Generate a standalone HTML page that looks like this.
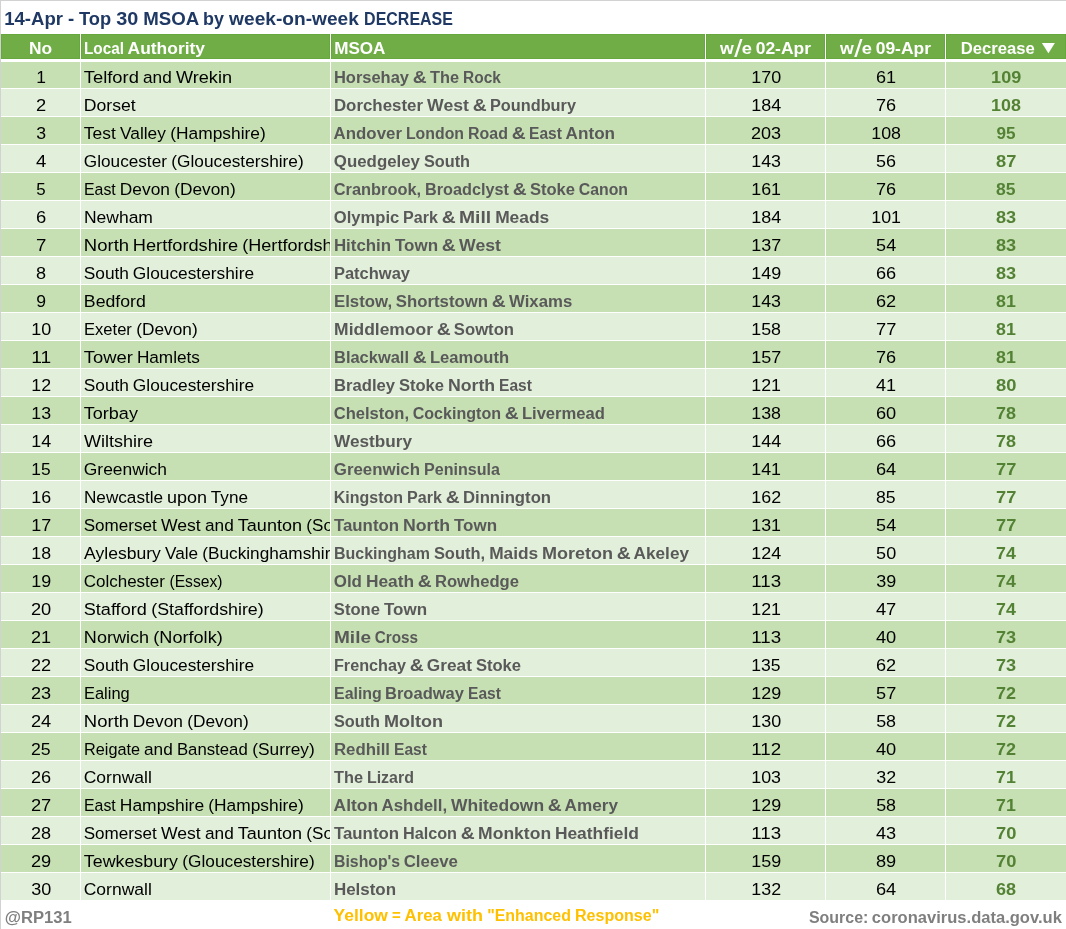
<!DOCTYPE html>
<html><head><meta charset="utf-8"><title>Top 30 MSOA by week-on-week DECREASE</title>
<style>html,body{margin:0;padding:0;background:#fff;overflow:hidden}svg{display:block}text{white-space:pre}</style>
</head><body>
<svg width="1066" height="929" viewBox="0 0 1066 929" font-family="'Liberation Sans', sans-serif" font-size="17.4">
<defs><clipPath id="c1"><rect x="81" y="0" width="249" height="929"/></clipPath></defs>
<rect x="0" y="0" width="1066" height="929" fill="#fff"/>
<rect x="0" y="0" width="1066" height="1" fill="#d2d2d2"/>
<rect x="0" y="0" width="1" height="929" fill="#d2d2d2"/>
<rect x="1" y="34" width="79" height="25" fill="#67A83E"/>
<rect x="2" y="35" width="77" height="23" fill="#70AD47"/>
<rect x="81" y="34" width="249" height="25" fill="#67A83E"/>
<rect x="82" y="35" width="247" height="23" fill="#70AD47"/>
<rect x="331" y="34" width="374" height="25" fill="#67A83E"/>
<rect x="332" y="35" width="372" height="23" fill="#70AD47"/>
<rect x="706" y="34" width="119" height="25" fill="#67A83E"/>
<rect x="707" y="35" width="117" height="23" fill="#70AD47"/>
<rect x="826" y="34" width="119" height="25" fill="#67A83E"/>
<rect x="827" y="35" width="117" height="23" fill="#70AD47"/>
<rect x="946" y="34" width="120" height="25" fill="#67A83E"/>
<rect x="947" y="35" width="118" height="23" fill="#70AD47"/>
<rect x="1" y="62" width="79" height="26" fill="#C6E0B4"/>
<rect x="81" y="62" width="249" height="26" fill="#C6E0B4"/>
<rect x="331" y="62" width="374" height="26" fill="#C6E0B4"/>
<rect x="706" y="62" width="119" height="26" fill="#C6E0B4"/>
<rect x="826" y="62" width="119" height="26" fill="#C6E0B4"/>
<rect x="946" y="62" width="120" height="26" fill="#C6E0B4"/>
<rect x="1" y="89" width="79" height="27" fill="#E2EFDA"/>
<rect x="81" y="89" width="249" height="27" fill="#E2EFDA"/>
<rect x="331" y="89" width="374" height="27" fill="#E2EFDA"/>
<rect x="706" y="89" width="119" height="27" fill="#E2EFDA"/>
<rect x="826" y="89" width="119" height="27" fill="#E2EFDA"/>
<rect x="946" y="89" width="120" height="27" fill="#E2EFDA"/>
<rect x="1" y="117" width="79" height="27" fill="#C6E0B4"/>
<rect x="81" y="117" width="249" height="27" fill="#C6E0B4"/>
<rect x="331" y="117" width="374" height="27" fill="#C6E0B4"/>
<rect x="706" y="117" width="119" height="27" fill="#C6E0B4"/>
<rect x="826" y="117" width="119" height="27" fill="#C6E0B4"/>
<rect x="946" y="117" width="120" height="27" fill="#C6E0B4"/>
<rect x="1" y="145" width="79" height="27" fill="#E2EFDA"/>
<rect x="81" y="145" width="249" height="27" fill="#E2EFDA"/>
<rect x="331" y="145" width="374" height="27" fill="#E2EFDA"/>
<rect x="706" y="145" width="119" height="27" fill="#E2EFDA"/>
<rect x="826" y="145" width="119" height="27" fill="#E2EFDA"/>
<rect x="946" y="145" width="120" height="27" fill="#E2EFDA"/>
<rect x="1" y="173" width="79" height="27" fill="#C6E0B4"/>
<rect x="81" y="173" width="249" height="27" fill="#C6E0B4"/>
<rect x="331" y="173" width="374" height="27" fill="#C6E0B4"/>
<rect x="706" y="173" width="119" height="27" fill="#C6E0B4"/>
<rect x="826" y="173" width="119" height="27" fill="#C6E0B4"/>
<rect x="946" y="173" width="120" height="27" fill="#C6E0B4"/>
<rect x="1" y="201" width="79" height="27" fill="#E2EFDA"/>
<rect x="81" y="201" width="249" height="27" fill="#E2EFDA"/>
<rect x="331" y="201" width="374" height="27" fill="#E2EFDA"/>
<rect x="706" y="201" width="119" height="27" fill="#E2EFDA"/>
<rect x="826" y="201" width="119" height="27" fill="#E2EFDA"/>
<rect x="946" y="201" width="120" height="27" fill="#E2EFDA"/>
<rect x="1" y="229" width="79" height="27" fill="#C6E0B4"/>
<rect x="81" y="229" width="249" height="27" fill="#C6E0B4"/>
<rect x="331" y="229" width="374" height="27" fill="#C6E0B4"/>
<rect x="706" y="229" width="119" height="27" fill="#C6E0B4"/>
<rect x="826" y="229" width="119" height="27" fill="#C6E0B4"/>
<rect x="946" y="229" width="120" height="27" fill="#C6E0B4"/>
<rect x="1" y="257" width="79" height="27" fill="#E2EFDA"/>
<rect x="81" y="257" width="249" height="27" fill="#E2EFDA"/>
<rect x="331" y="257" width="374" height="27" fill="#E2EFDA"/>
<rect x="706" y="257" width="119" height="27" fill="#E2EFDA"/>
<rect x="826" y="257" width="119" height="27" fill="#E2EFDA"/>
<rect x="946" y="257" width="120" height="27" fill="#E2EFDA"/>
<rect x="1" y="285" width="79" height="27" fill="#C6E0B4"/>
<rect x="81" y="285" width="249" height="27" fill="#C6E0B4"/>
<rect x="331" y="285" width="374" height="27" fill="#C6E0B4"/>
<rect x="706" y="285" width="119" height="27" fill="#C6E0B4"/>
<rect x="826" y="285" width="119" height="27" fill="#C6E0B4"/>
<rect x="946" y="285" width="120" height="27" fill="#C6E0B4"/>
<rect x="1" y="313" width="79" height="27" fill="#E2EFDA"/>
<rect x="81" y="313" width="249" height="27" fill="#E2EFDA"/>
<rect x="331" y="313" width="374" height="27" fill="#E2EFDA"/>
<rect x="706" y="313" width="119" height="27" fill="#E2EFDA"/>
<rect x="826" y="313" width="119" height="27" fill="#E2EFDA"/>
<rect x="946" y="313" width="120" height="27" fill="#E2EFDA"/>
<rect x="1" y="341" width="79" height="27" fill="#C6E0B4"/>
<rect x="81" y="341" width="249" height="27" fill="#C6E0B4"/>
<rect x="331" y="341" width="374" height="27" fill="#C6E0B4"/>
<rect x="706" y="341" width="119" height="27" fill="#C6E0B4"/>
<rect x="826" y="341" width="119" height="27" fill="#C6E0B4"/>
<rect x="946" y="341" width="120" height="27" fill="#C6E0B4"/>
<rect x="1" y="369" width="79" height="27" fill="#E2EFDA"/>
<rect x="81" y="369" width="249" height="27" fill="#E2EFDA"/>
<rect x="331" y="369" width="374" height="27" fill="#E2EFDA"/>
<rect x="706" y="369" width="119" height="27" fill="#E2EFDA"/>
<rect x="826" y="369" width="119" height="27" fill="#E2EFDA"/>
<rect x="946" y="369" width="120" height="27" fill="#E2EFDA"/>
<rect x="1" y="397" width="79" height="27" fill="#C6E0B4"/>
<rect x="81" y="397" width="249" height="27" fill="#C6E0B4"/>
<rect x="331" y="397" width="374" height="27" fill="#C6E0B4"/>
<rect x="706" y="397" width="119" height="27" fill="#C6E0B4"/>
<rect x="826" y="397" width="119" height="27" fill="#C6E0B4"/>
<rect x="946" y="397" width="120" height="27" fill="#C6E0B4"/>
<rect x="1" y="425" width="79" height="27" fill="#E2EFDA"/>
<rect x="81" y="425" width="249" height="27" fill="#E2EFDA"/>
<rect x="331" y="425" width="374" height="27" fill="#E2EFDA"/>
<rect x="706" y="425" width="119" height="27" fill="#E2EFDA"/>
<rect x="826" y="425" width="119" height="27" fill="#E2EFDA"/>
<rect x="946" y="425" width="120" height="27" fill="#E2EFDA"/>
<rect x="1" y="453" width="79" height="27" fill="#C6E0B4"/>
<rect x="81" y="453" width="249" height="27" fill="#C6E0B4"/>
<rect x="331" y="453" width="374" height="27" fill="#C6E0B4"/>
<rect x="706" y="453" width="119" height="27" fill="#C6E0B4"/>
<rect x="826" y="453" width="119" height="27" fill="#C6E0B4"/>
<rect x="946" y="453" width="120" height="27" fill="#C6E0B4"/>
<rect x="1" y="481" width="79" height="27" fill="#E2EFDA"/>
<rect x="81" y="481" width="249" height="27" fill="#E2EFDA"/>
<rect x="331" y="481" width="374" height="27" fill="#E2EFDA"/>
<rect x="706" y="481" width="119" height="27" fill="#E2EFDA"/>
<rect x="826" y="481" width="119" height="27" fill="#E2EFDA"/>
<rect x="946" y="481" width="120" height="27" fill="#E2EFDA"/>
<rect x="1" y="509" width="79" height="27" fill="#C6E0B4"/>
<rect x="81" y="509" width="249" height="27" fill="#C6E0B4"/>
<rect x="331" y="509" width="374" height="27" fill="#C6E0B4"/>
<rect x="706" y="509" width="119" height="27" fill="#C6E0B4"/>
<rect x="826" y="509" width="119" height="27" fill="#C6E0B4"/>
<rect x="946" y="509" width="120" height="27" fill="#C6E0B4"/>
<rect x="1" y="537" width="79" height="27" fill="#E2EFDA"/>
<rect x="81" y="537" width="249" height="27" fill="#E2EFDA"/>
<rect x="331" y="537" width="374" height="27" fill="#E2EFDA"/>
<rect x="706" y="537" width="119" height="27" fill="#E2EFDA"/>
<rect x="826" y="537" width="119" height="27" fill="#E2EFDA"/>
<rect x="946" y="537" width="120" height="27" fill="#E2EFDA"/>
<rect x="1" y="565" width="79" height="27" fill="#C6E0B4"/>
<rect x="81" y="565" width="249" height="27" fill="#C6E0B4"/>
<rect x="331" y="565" width="374" height="27" fill="#C6E0B4"/>
<rect x="706" y="565" width="119" height="27" fill="#C6E0B4"/>
<rect x="826" y="565" width="119" height="27" fill="#C6E0B4"/>
<rect x="946" y="565" width="120" height="27" fill="#C6E0B4"/>
<rect x="1" y="593" width="79" height="27" fill="#E2EFDA"/>
<rect x="81" y="593" width="249" height="27" fill="#E2EFDA"/>
<rect x="331" y="593" width="374" height="27" fill="#E2EFDA"/>
<rect x="706" y="593" width="119" height="27" fill="#E2EFDA"/>
<rect x="826" y="593" width="119" height="27" fill="#E2EFDA"/>
<rect x="946" y="593" width="120" height="27" fill="#E2EFDA"/>
<rect x="1" y="621" width="79" height="27" fill="#C6E0B4"/>
<rect x="81" y="621" width="249" height="27" fill="#C6E0B4"/>
<rect x="331" y="621" width="374" height="27" fill="#C6E0B4"/>
<rect x="706" y="621" width="119" height="27" fill="#C6E0B4"/>
<rect x="826" y="621" width="119" height="27" fill="#C6E0B4"/>
<rect x="946" y="621" width="120" height="27" fill="#C6E0B4"/>
<rect x="1" y="649" width="79" height="27" fill="#E2EFDA"/>
<rect x="81" y="649" width="249" height="27" fill="#E2EFDA"/>
<rect x="331" y="649" width="374" height="27" fill="#E2EFDA"/>
<rect x="706" y="649" width="119" height="27" fill="#E2EFDA"/>
<rect x="826" y="649" width="119" height="27" fill="#E2EFDA"/>
<rect x="946" y="649" width="120" height="27" fill="#E2EFDA"/>
<rect x="1" y="677" width="79" height="27" fill="#C6E0B4"/>
<rect x="81" y="677" width="249" height="27" fill="#C6E0B4"/>
<rect x="331" y="677" width="374" height="27" fill="#C6E0B4"/>
<rect x="706" y="677" width="119" height="27" fill="#C6E0B4"/>
<rect x="826" y="677" width="119" height="27" fill="#C6E0B4"/>
<rect x="946" y="677" width="120" height="27" fill="#C6E0B4"/>
<rect x="1" y="705" width="79" height="27" fill="#E2EFDA"/>
<rect x="81" y="705" width="249" height="27" fill="#E2EFDA"/>
<rect x="331" y="705" width="374" height="27" fill="#E2EFDA"/>
<rect x="706" y="705" width="119" height="27" fill="#E2EFDA"/>
<rect x="826" y="705" width="119" height="27" fill="#E2EFDA"/>
<rect x="946" y="705" width="120" height="27" fill="#E2EFDA"/>
<rect x="1" y="733" width="79" height="27" fill="#C6E0B4"/>
<rect x="81" y="733" width="249" height="27" fill="#C6E0B4"/>
<rect x="331" y="733" width="374" height="27" fill="#C6E0B4"/>
<rect x="706" y="733" width="119" height="27" fill="#C6E0B4"/>
<rect x="826" y="733" width="119" height="27" fill="#C6E0B4"/>
<rect x="946" y="733" width="120" height="27" fill="#C6E0B4"/>
<rect x="1" y="761" width="79" height="27" fill="#E2EFDA"/>
<rect x="81" y="761" width="249" height="27" fill="#E2EFDA"/>
<rect x="331" y="761" width="374" height="27" fill="#E2EFDA"/>
<rect x="706" y="761" width="119" height="27" fill="#E2EFDA"/>
<rect x="826" y="761" width="119" height="27" fill="#E2EFDA"/>
<rect x="946" y="761" width="120" height="27" fill="#E2EFDA"/>
<rect x="1" y="789" width="79" height="27" fill="#C6E0B4"/>
<rect x="81" y="789" width="249" height="27" fill="#C6E0B4"/>
<rect x="331" y="789" width="374" height="27" fill="#C6E0B4"/>
<rect x="706" y="789" width="119" height="27" fill="#C6E0B4"/>
<rect x="826" y="789" width="119" height="27" fill="#C6E0B4"/>
<rect x="946" y="789" width="120" height="27" fill="#C6E0B4"/>
<rect x="1" y="817" width="79" height="27" fill="#E2EFDA"/>
<rect x="81" y="817" width="249" height="27" fill="#E2EFDA"/>
<rect x="331" y="817" width="374" height="27" fill="#E2EFDA"/>
<rect x="706" y="817" width="119" height="27" fill="#E2EFDA"/>
<rect x="826" y="817" width="119" height="27" fill="#E2EFDA"/>
<rect x="946" y="817" width="120" height="27" fill="#E2EFDA"/>
<rect x="1" y="845" width="79" height="27" fill="#C6E0B4"/>
<rect x="81" y="845" width="249" height="27" fill="#C6E0B4"/>
<rect x="331" y="845" width="374" height="27" fill="#C6E0B4"/>
<rect x="706" y="845" width="119" height="27" fill="#C6E0B4"/>
<rect x="826" y="845" width="119" height="27" fill="#C6E0B4"/>
<rect x="946" y="845" width="120" height="27" fill="#C6E0B4"/>
<rect x="1" y="873" width="79" height="27" fill="#E2EFDA"/>
<rect x="81" y="873" width="249" height="27" fill="#E2EFDA"/>
<rect x="331" y="873" width="374" height="27" fill="#E2EFDA"/>
<rect x="706" y="873" width="119" height="27" fill="#E2EFDA"/>
<rect x="826" y="873" width="119" height="27" fill="#E2EFDA"/>
<rect x="946" y="873" width="120" height="27" fill="#E2EFDA"/>
<text y="25" font-size="18.9" font-weight="bold" fill="#1F3864"><tspan x="4.24" textLength="58.74" lengthAdjust="spacingAndGlyphs">14-Apr</tspan> <tspan x="67.90" textLength="6.23" lengthAdjust="spacingAndGlyphs">-</tspan> <tspan x="78.98" textLength="32.12" lengthAdjust="spacingAndGlyphs">Top</tspan> <tspan x="116.32" textLength="22.06" lengthAdjust="spacingAndGlyphs">30</tspan> <tspan x="143.19" textLength="55.28" lengthAdjust="spacingAndGlyphs">MSOA</tspan> <tspan x="203.09" textLength="20.90" lengthAdjust="spacingAndGlyphs">by</tspan> <tspan x="229.13" textLength="129.72" lengthAdjust="spacingAndGlyphs">week-on-week</tspan> <tspan x="364.12" textLength="88.79" lengthAdjust="spacingAndGlyphs">DECREASE</tspan></text>
<text y="54" font-weight="bold" fill="#fff"><tspan x="28.97" textLength="23.13" lengthAdjust="spacingAndGlyphs">No</tspan></text>
<text y="54" font-weight="bold" fill="#fff"><tspan x="83.98" textLength="39.96" lengthAdjust="spacingAndGlyphs">Local</tspan> <tspan x="127.60" textLength="77.40" lengthAdjust="spacingAndGlyphs">Authority</tspan></text>
<text y="54" font-weight="bold" fill="#fff"><tspan x="334.15" textLength="51.30" lengthAdjust="spacingAndGlyphs">MSOA</tspan></text>
<text y="54" font-weight="bold" fill="#fff"><tspan x="720.12" y="54" textLength="13.78" lengthAdjust="spacingAndGlyphs">w</tspan><tspan x="734.20" font-size="23.0" font-weight="normal" y="56.60" textLength="8.20" lengthAdjust="spacingAndGlyphs">/</tspan><tspan x="741.87" y="54" textLength="10.18" lengthAdjust="spacingAndGlyphs">e</tspan> <tspan x="755.70" y="54" textLength="55.29" lengthAdjust="spacingAndGlyphs">02-Apr</tspan></text>
<text y="54" font-weight="bold" fill="#fff"><tspan x="840.12" y="54" textLength="13.78" lengthAdjust="spacingAndGlyphs">w</tspan><tspan x="854.20" font-size="23.0" font-weight="normal" y="56.60" textLength="8.20" lengthAdjust="spacingAndGlyphs">/</tspan><tspan x="861.87" y="54" textLength="10.18" lengthAdjust="spacingAndGlyphs">e</tspan> <tspan x="875.70" y="54" textLength="55.29" lengthAdjust="spacingAndGlyphs">09-Apr</tspan></text>
<text y="54" font-weight="bold" fill="#fff"><tspan x="960.66" textLength="74.03" lengthAdjust="spacingAndGlyphs">Decrease</tspan></text>
<text y="83"><tspan x="36.32" textLength="9.68" lengthAdjust="spacingAndGlyphs">1</tspan></text>
<text y="83" clip-path="url(#c1)"><tspan x="83.81" textLength="55.04" lengthAdjust="spacingAndGlyphs">Telford</tspan> <tspan x="143.05" textLength="28.73" lengthAdjust="spacingAndGlyphs">and</tspan> <tspan x="176.03" textLength="55.98" lengthAdjust="spacingAndGlyphs">Wrekin</tspan></text>
<text y="83" font-weight="bold" fill="#595959"><tspan x="333.95" textLength="75.05" lengthAdjust="spacingAndGlyphs">Horsehay</tspan> <tspan x="412.74" textLength="13.92" lengthAdjust="spacingAndGlyphs">&amp;</tspan> <tspan x="429.98" textLength="29.00" lengthAdjust="spacingAndGlyphs">The</tspan> <tspan x="463.06" textLength="37.80" lengthAdjust="spacingAndGlyphs">Rock</tspan></text>
<text y="83"><tspan x="751.27" textLength="29.93" lengthAdjust="spacingAndGlyphs">170</tspan></text>
<text y="83"><tspan x="875.94" textLength="20.09" lengthAdjust="spacingAndGlyphs">61</tspan></text>
<text y="83" font-weight="bold" fill="#548235"><tspan x="991.13" textLength="30.13" lengthAdjust="spacingAndGlyphs">109</tspan></text>
<text y="111"><tspan x="35.93" textLength="10.18" lengthAdjust="spacingAndGlyphs">2</tspan></text>
<text y="111" clip-path="url(#c1)"><tspan x="83.84" textLength="51.95" lengthAdjust="spacingAndGlyphs">Dorset</tspan></text>
<text y="111" font-weight="bold" fill="#595959"><tspan x="333.95" textLength="89.03" lengthAdjust="spacingAndGlyphs">Dorchester</tspan> <tspan x="427.07" textLength="41.87" lengthAdjust="spacingAndGlyphs">West</tspan> <tspan x="472.74" textLength="13.92" lengthAdjust="spacingAndGlyphs">&amp;</tspan> <tspan x="489.98" textLength="86.02" lengthAdjust="spacingAndGlyphs">Poundbury</tspan></text>
<text y="111"><tspan x="751.27" textLength="29.94" lengthAdjust="spacingAndGlyphs">184</tspan></text>
<text y="111"><tspan x="875.98" textLength="20.16" lengthAdjust="spacingAndGlyphs">76</tspan></text>
<text y="111" font-weight="bold" fill="#548235"><tspan x="991.14" textLength="29.84" lengthAdjust="spacingAndGlyphs">108</tspan></text>
<text y="139"><tspan x="36.21" textLength="9.85" lengthAdjust="spacingAndGlyphs">3</tspan></text>
<text y="139" clip-path="url(#c1)"><tspan x="83.83" textLength="31.96" lengthAdjust="spacingAndGlyphs">Test</tspan> <tspan x="119.98" textLength="45.92" lengthAdjust="spacingAndGlyphs">Valley</tspan> <tspan x="170.32" textLength="95.37" lengthAdjust="spacingAndGlyphs">(Hampshire)</tspan></text>
<text y="139" font-weight="bold" fill="#595959"><tspan x="333.62" textLength="68.36" lengthAdjust="spacingAndGlyphs">Andover</tspan> <tspan x="405.94" textLength="58.05" lengthAdjust="spacingAndGlyphs">London</tspan> <tspan x="468.03" textLength="39.87" lengthAdjust="spacingAndGlyphs">Road</tspan> <tspan x="511.74" textLength="13.92" lengthAdjust="spacingAndGlyphs">&amp;</tspan> <tspan x="529.05" textLength="32.86" lengthAdjust="spacingAndGlyphs">East</tspan> <tspan x="565.61" textLength="49.46" lengthAdjust="spacingAndGlyphs">Anton</tspan></text>
<text y="139"><tspan x="750.94" textLength="30.13" lengthAdjust="spacingAndGlyphs">203</tspan></text>
<text y="139"><tspan x="871.28" textLength="29.73" lengthAdjust="spacingAndGlyphs">108</tspan></text>
<text y="139" font-weight="bold" fill="#548235"><tspan x="996.43" textLength="19.08" lengthAdjust="spacingAndGlyphs">95</tspan></text>
<text y="167"><tspan x="35.90" textLength="10.33" lengthAdjust="spacingAndGlyphs">4</tspan></text>
<text y="167" clip-path="url(#c1)"><tspan x="83.85" textLength="83.06" lengthAdjust="spacingAndGlyphs">Gloucester</tspan> <tspan x="171.32" textLength="132.36" lengthAdjust="spacingAndGlyphs">(Gloucestershire)</tspan></text>
<text y="167" font-weight="bold" fill="#595959"><tspan x="333.85" textLength="86.15" lengthAdjust="spacingAndGlyphs">Quedgeley</tspan> <tspan x="423.88" textLength="46.14" lengthAdjust="spacingAndGlyphs">South</tspan></text>
<text y="167"><tspan x="751.28" textLength="29.78" lengthAdjust="spacingAndGlyphs">143</tspan></text>
<text y="167"><tspan x="876.14" textLength="19.99" lengthAdjust="spacingAndGlyphs">56</tspan></text>
<text y="167" font-weight="bold" fill="#548235"><tspan x="995.99" textLength="20.32" lengthAdjust="spacingAndGlyphs">87</tspan></text>
<text y="195"><tspan x="36.19" textLength="9.40" lengthAdjust="spacingAndGlyphs">5</tspan></text>
<text y="195" clip-path="url(#c1)"><tspan x="84.04" textLength="31.74" lengthAdjust="spacingAndGlyphs">East</tspan> <tspan x="119.87" textLength="50.10" lengthAdjust="spacingAndGlyphs">Devon</tspan> <tspan x="174.32" textLength="61.36" lengthAdjust="spacingAndGlyphs">(Devon)</tspan></text>
<text y="195" font-weight="bold" fill="#595959"><tspan x="333.72" textLength="87.34" lengthAdjust="spacingAndGlyphs">Cranbrook,</tspan> <tspan x="425.02" textLength="83.90" lengthAdjust="spacingAndGlyphs">Broadclyst</tspan> <tspan x="512.74" textLength="13.92" lengthAdjust="spacingAndGlyphs">&amp;</tspan> <tspan x="529.88" textLength="45.12" lengthAdjust="spacingAndGlyphs">Stoke</tspan> <tspan x="578.74" textLength="49.25" lengthAdjust="spacingAndGlyphs">Canon</tspan></text>
<text y="195"><tspan x="751.28" textLength="29.73" lengthAdjust="spacingAndGlyphs">161</tspan></text>
<text y="195"><tspan x="875.98" textLength="20.16" lengthAdjust="spacingAndGlyphs">76</tspan></text>
<text y="195" font-weight="bold" fill="#548235"><tspan x="996.01" textLength="19.51" lengthAdjust="spacingAndGlyphs">85</tspan></text>
<text y="223"><tspan x="35.92" textLength="10.23" lengthAdjust="spacingAndGlyphs">6</tspan></text>
<text y="223" clip-path="url(#c1)"><tspan x="83.94" textLength="69.00" lengthAdjust="spacingAndGlyphs">Newham</tspan></text>
<text y="223" font-weight="bold" fill="#595959"><tspan x="333.76" textLength="65.53" lengthAdjust="spacingAndGlyphs">Olympic</tspan> <tspan x="402.99" textLength="34.87" lengthAdjust="spacingAndGlyphs">Park</tspan> <tspan x="441.74" textLength="13.92" lengthAdjust="spacingAndGlyphs">&amp;</tspan> <tspan x="459.00" textLength="32.22" lengthAdjust="spacingAndGlyphs">Mill</tspan> <tspan x="495.13" textLength="54.10" lengthAdjust="spacingAndGlyphs">Meads</tspan></text>
<text y="223"><tspan x="751.27" textLength="29.94" lengthAdjust="spacingAndGlyphs">184</tspan></text>
<text y="223"><tspan x="871.28" textLength="29.73" lengthAdjust="spacingAndGlyphs">101</tspan></text>
<text y="223" font-weight="bold" fill="#548235"><tspan x="995.99" textLength="20.13" lengthAdjust="spacingAndGlyphs">83</tspan></text>
<text y="251"><tspan x="35.95" textLength="10.37" lengthAdjust="spacingAndGlyphs">7</tspan></text>
<text y="251" clip-path="url(#c1)"><tspan x="83.86" textLength="45.18" lengthAdjust="spacingAndGlyphs">North</tspan> <tspan x="132.80" textLength="105.32" lengthAdjust="spacingAndGlyphs">Hertfordshire</tspan> <tspan x="242.27" textLength="116.46" lengthAdjust="spacingAndGlyphs">(Hertfordshire)</tspan></text>
<text y="251" font-weight="bold" fill="#595959"><tspan x="333.92" textLength="57.13" lengthAdjust="spacingAndGlyphs">Hitchin</tspan> <tspan x="394.98" textLength="43.09" lengthAdjust="spacingAndGlyphs">Town</tspan> <tspan x="441.74" textLength="13.92" lengthAdjust="spacingAndGlyphs">&amp;</tspan> <tspan x="459.07" textLength="41.87" lengthAdjust="spacingAndGlyphs">West</tspan></text>
<text y="251"><tspan x="751.27" textLength="30.02" lengthAdjust="spacingAndGlyphs">137</tspan></text>
<text y="251"><tspan x="876.14" textLength="20.07" lengthAdjust="spacingAndGlyphs">54</tspan></text>
<text y="251" font-weight="bold" fill="#548235"><tspan x="995.99" textLength="20.13" lengthAdjust="spacingAndGlyphs">83</tspan></text>
<text y="279"><tspan x="35.98" textLength="10.05" lengthAdjust="spacingAndGlyphs">8</tspan></text>
<text y="279" clip-path="url(#c1)"><tspan x="83.72" textLength="45.24" lengthAdjust="spacingAndGlyphs">South</tspan> <tspan x="132.84" textLength="121.24" lengthAdjust="spacingAndGlyphs">Gloucestershire</tspan></text>
<text y="279" font-weight="bold" fill="#595959"><tspan x="333.96" textLength="76.03" lengthAdjust="spacingAndGlyphs">Patchway</tspan></text>
<text y="279"><tspan x="751.28" textLength="29.93" lengthAdjust="spacingAndGlyphs">149</tspan></text>
<text y="279"><tspan x="875.93" textLength="20.21" lengthAdjust="spacingAndGlyphs">66</tspan></text>
<text y="279" font-weight="bold" fill="#548235"><tspan x="995.99" textLength="20.13" lengthAdjust="spacingAndGlyphs">83</tspan></text>
<text y="307"><tspan x="36.39" textLength="9.80" lengthAdjust="spacingAndGlyphs">9</tspan></text>
<text y="307" clip-path="url(#c1)"><tspan x="83.89" textLength="61.92" lengthAdjust="spacingAndGlyphs">Bedford</tspan></text>
<text y="307" font-weight="bold" fill="#595959"><tspan x="333.97" textLength="58.11" lengthAdjust="spacingAndGlyphs">Elstow,</tspan> <tspan x="395.87" textLength="92.18" lengthAdjust="spacingAndGlyphs">Shortstown</tspan> <tspan x="491.74" textLength="13.92" lengthAdjust="spacingAndGlyphs">&amp;</tspan> <tspan x="509.07" textLength="63.14" lengthAdjust="spacingAndGlyphs">Wixams</tspan></text>
<text y="307"><tspan x="751.28" textLength="29.78" lengthAdjust="spacingAndGlyphs">143</tspan></text>
<text y="307"><tspan x="875.93" textLength="20.17" lengthAdjust="spacingAndGlyphs">62</tspan></text>
<text y="307" font-weight="bold" fill="#548235"><tspan x="996.00" textLength="19.78" lengthAdjust="spacingAndGlyphs">81</tspan></text>
<text y="335"><tspan x="31.28" textLength="19.93" lengthAdjust="spacingAndGlyphs">10</tspan></text>
<text y="335" clip-path="url(#c1)"><tspan x="83.98" textLength="47.92" lengthAdjust="spacingAndGlyphs">Exeter</tspan> <tspan x="136.32" textLength="61.36" lengthAdjust="spacingAndGlyphs">(Devon)</tspan></text>
<text y="335" font-weight="bold" fill="#595959"><tspan x="334.12" textLength="98.86" lengthAdjust="spacingAndGlyphs">Middlemoor</tspan> <tspan x="436.74" textLength="13.92" lengthAdjust="spacingAndGlyphs">&amp;</tspan> <tspan x="453.87" textLength="60.17" lengthAdjust="spacingAndGlyphs">Sowton</tspan></text>
<text y="335"><tspan x="751.28" textLength="29.73" lengthAdjust="spacingAndGlyphs">158</tspan></text>
<text y="335"><tspan x="875.97" textLength="20.34" lengthAdjust="spacingAndGlyphs">77</tspan></text>
<text y="335" font-weight="bold" fill="#548235"><tspan x="996.00" textLength="19.78" lengthAdjust="spacingAndGlyphs">81</tspan></text>
<text y="363"><tspan x="31.18" textLength="19.90" lengthAdjust="spacingAndGlyphs">11</tspan></text>
<text y="363" clip-path="url(#c1)"><tspan x="83.81" textLength="49.13" lengthAdjust="spacingAndGlyphs">Tower</tspan> <tspan x="136.89" textLength="63.09" lengthAdjust="spacingAndGlyphs">Hamlets</tspan></text>
<text y="363" font-weight="bold" fill="#595959"><tspan x="334.00" textLength="75.01" lengthAdjust="spacingAndGlyphs">Blackwall</tspan> <tspan x="412.74" textLength="13.92" lengthAdjust="spacingAndGlyphs">&amp;</tspan> <tspan x="429.89" textLength="79.15" lengthAdjust="spacingAndGlyphs">Leamouth</tspan></text>
<text y="363"><tspan x="751.27" textLength="30.02" lengthAdjust="spacingAndGlyphs">157</tspan></text>
<text y="363"><tspan x="875.98" textLength="20.16" lengthAdjust="spacingAndGlyphs">76</tspan></text>
<text y="363" font-weight="bold" fill="#548235"><tspan x="996.00" textLength="19.78" lengthAdjust="spacingAndGlyphs">81</tspan></text>
<text y="391"><tspan x="31.29" textLength="19.80" lengthAdjust="spacingAndGlyphs">12</tspan></text>
<text y="391" clip-path="url(#c1)"><tspan x="83.72" textLength="45.24" lengthAdjust="spacingAndGlyphs">South</tspan> <tspan x="132.84" textLength="121.24" lengthAdjust="spacingAndGlyphs">Gloucestershire</tspan></text>
<text y="391" font-weight="bold" fill="#595959"><tspan x="333.99" textLength="61.01" lengthAdjust="spacingAndGlyphs">Bradley</tspan> <tspan x="398.88" textLength="45.12" lengthAdjust="spacingAndGlyphs">Stoke</tspan> <tspan x="447.95" textLength="47.17" lengthAdjust="spacingAndGlyphs">North</tspan> <tspan x="499.05" textLength="32.86" lengthAdjust="spacingAndGlyphs">East</tspan></text>
<text y="391"><tspan x="751.28" textLength="29.73" lengthAdjust="spacingAndGlyphs">121</tspan></text>
<text y="391"><tspan x="875.91" textLength="20.12" lengthAdjust="spacingAndGlyphs">41</tspan></text>
<text y="391" font-weight="bold" fill="#548235"><tspan x="995.98" textLength="20.38" lengthAdjust="spacingAndGlyphs">80</tspan></text>
<text y="419"><tspan x="31.29" textLength="19.77" lengthAdjust="spacingAndGlyphs">13</tspan></text>
<text y="419" clip-path="url(#c1)"><tspan x="83.82" textLength="54.09" lengthAdjust="spacingAndGlyphs">Torbay</tspan></text>
<text y="419" font-weight="bold" fill="#595959"><tspan x="333.71" textLength="75.36" lengthAdjust="spacingAndGlyphs">Chelston,</tspan> <tspan x="412.73" textLength="88.27" lengthAdjust="spacingAndGlyphs">Cockington</tspan> <tspan x="504.74" textLength="13.92" lengthAdjust="spacingAndGlyphs">&amp;</tspan> <tspan x="521.89" textLength="83.05" lengthAdjust="spacingAndGlyphs">Livermead</tspan></text>
<text y="419"><tspan x="751.28" textLength="29.73" lengthAdjust="spacingAndGlyphs">138</tspan></text>
<text y="419"><tspan x="875.93" textLength="20.29" lengthAdjust="spacingAndGlyphs">60</tspan></text>
<text y="419" font-weight="bold" fill="#548235"><tspan x="995.99" textLength="20.00" lengthAdjust="spacingAndGlyphs">78</tspan></text>
<text y="447"><tspan x="31.28" textLength="19.93" lengthAdjust="spacingAndGlyphs">14</tspan></text>
<text y="447" clip-path="url(#c1)"><tspan x="84.03" textLength="69.08" lengthAdjust="spacingAndGlyphs">Wiltshire</tspan></text>
<text y="447" font-weight="bold" fill="#595959"><tspan x="334.07" textLength="77.93" lengthAdjust="spacingAndGlyphs">Westbury</tspan></text>
<text y="447"><tspan x="751.27" textLength="29.94" lengthAdjust="spacingAndGlyphs">144</tspan></text>
<text y="447"><tspan x="875.93" textLength="20.21" lengthAdjust="spacingAndGlyphs">66</tspan></text>
<text y="447" font-weight="bold" fill="#548235"><tspan x="995.99" textLength="20.00" lengthAdjust="spacingAndGlyphs">78</tspan></text>
<text y="475"><tspan x="31.32" textLength="19.29" lengthAdjust="spacingAndGlyphs">15</tspan></text>
<text y="475" clip-path="url(#c1)"><tspan x="83.84" textLength="83.13" lengthAdjust="spacingAndGlyphs">Greenwich</tspan></text>
<text y="475" font-weight="bold" fill="#595959"><tspan x="333.81" textLength="86.25" lengthAdjust="spacingAndGlyphs">Greenwich</tspan> <tspan x="423.99" textLength="75.92" lengthAdjust="spacingAndGlyphs">Peninsula</tspan></text>
<text y="475"><tspan x="751.28" textLength="29.73" lengthAdjust="spacingAndGlyphs">141</tspan></text>
<text y="475"><tspan x="875.93" textLength="20.29" lengthAdjust="spacingAndGlyphs">64</tspan></text>
<text y="475" font-weight="bold" fill="#548235"><tspan x="995.98" textLength="20.33" lengthAdjust="spacingAndGlyphs">77</tspan></text>
<text y="503"><tspan x="31.28" textLength="19.84" lengthAdjust="spacingAndGlyphs">16</tspan></text>
<text y="503" clip-path="url(#c1)"><tspan x="83.97" textLength="79.11" lengthAdjust="spacingAndGlyphs">Newcastle</tspan> <tspan x="166.99" textLength="40.02" lengthAdjust="spacingAndGlyphs">upon</tspan> <tspan x="210.84" textLength="37.24" lengthAdjust="spacingAndGlyphs">Tyne</tspan></text>
<text y="503" font-weight="bold" fill="#595959"><tspan x="333.82" textLength="69.18" lengthAdjust="spacingAndGlyphs">Kingston</tspan> <tspan x="406.99" textLength="34.87" lengthAdjust="spacingAndGlyphs">Park</tspan> <tspan x="445.74" textLength="13.92" lengthAdjust="spacingAndGlyphs">&amp;</tspan> <tspan x="462.96" textLength="88.08" lengthAdjust="spacingAndGlyphs">Dinnington</tspan></text>
<text y="503"><tspan x="751.28" textLength="29.81" lengthAdjust="spacingAndGlyphs">162</tspan></text>
<text y="503"><tspan x="875.99" textLength="19.63" lengthAdjust="spacingAndGlyphs">85</tspan></text>
<text y="503" font-weight="bold" fill="#548235"><tspan x="995.98" textLength="20.33" lengthAdjust="spacingAndGlyphs">77</tspan></text>
<text y="531"><tspan x="31.27" textLength="20.02" lengthAdjust="spacingAndGlyphs">17</tspan></text>
<text y="531" clip-path="url(#c1)"><tspan x="83.73" textLength="73.06" lengthAdjust="spacingAndGlyphs">Somerset</tspan> <tspan x="161.03" textLength="39.76" lengthAdjust="spacingAndGlyphs">West</tspan> <tspan x="205.05" textLength="28.73" lengthAdjust="spacingAndGlyphs">and</tspan> <tspan x="237.82" textLength="64.20" lengthAdjust="spacingAndGlyphs">Taunton</tspan> <tspan x="306.33" textLength="84.33" lengthAdjust="spacingAndGlyphs">(Somerset)</tspan></text>
<text y="531" font-weight="bold" fill="#595959"><tspan x="333.98" textLength="65.07" lengthAdjust="spacingAndGlyphs">Taunton</tspan> <tspan x="402.95" textLength="47.17" lengthAdjust="spacingAndGlyphs">North</tspan> <tspan x="453.98" textLength="43.09" lengthAdjust="spacingAndGlyphs">Town</tspan></text>
<text y="531"><tspan x="751.28" textLength="29.73" lengthAdjust="spacingAndGlyphs">131</tspan></text>
<text y="531"><tspan x="876.14" textLength="20.07" lengthAdjust="spacingAndGlyphs">54</tspan></text>
<text y="531" font-weight="bold" fill="#548235"><tspan x="995.98" textLength="20.33" lengthAdjust="spacingAndGlyphs">77</tspan></text>
<text y="559"><tspan x="31.29" textLength="19.72" lengthAdjust="spacingAndGlyphs">18</tspan></text>
<text y="559" clip-path="url(#c1)"><tspan x="84.04" textLength="76.86" lengthAdjust="spacingAndGlyphs">Aylesbury</tspan> <tspan x="164.98" textLength="33.10" lengthAdjust="spacingAndGlyphs">Vale</tspan> <tspan x="202.32" textLength="143.35" lengthAdjust="spacingAndGlyphs">(Buckinghamshire)</tspan></text>
<text y="559" font-weight="bold" fill="#595959"><tspan x="334.03" textLength="95.93" lengthAdjust="spacingAndGlyphs">Buckingham</tspan> <tspan x="433.88" textLength="51.18" lengthAdjust="spacingAndGlyphs">South,</tspan> <tspan x="489.13" textLength="49.10" lengthAdjust="spacingAndGlyphs">Maids</tspan> <tspan x="542.08" textLength="71.04" lengthAdjust="spacingAndGlyphs">Moreton</tspan> <tspan x="616.74" textLength="13.92" lengthAdjust="spacingAndGlyphs">&amp;</tspan> <tspan x="633.61" textLength="55.39" lengthAdjust="spacingAndGlyphs">Akeley</tspan></text>
<text y="559"><tspan x="751.27" textLength="29.94" lengthAdjust="spacingAndGlyphs">124</tspan></text>
<text y="559"><tspan x="876.14" textLength="20.07" lengthAdjust="spacingAndGlyphs">50</tspan></text>
<text y="559" font-weight="bold" fill="#548235"><tspan x="995.99" textLength="19.81" lengthAdjust="spacingAndGlyphs">74</tspan></text>
<text y="587"><tspan x="31.28" textLength="19.92" lengthAdjust="spacingAndGlyphs">19</tspan></text>
<text y="587" clip-path="url(#c1)"><tspan x="83.76" textLength="81.15" lengthAdjust="spacingAndGlyphs">Colchester</tspan> <tspan x="169.42" textLength="53.16" lengthAdjust="spacingAndGlyphs">(Essex)</tspan></text>
<text y="587" font-weight="bold" fill="#595959"><tspan x="333.75" textLength="28.22" lengthAdjust="spacingAndGlyphs">Old</tspan> <tspan x="365.89" textLength="48.21" lengthAdjust="spacingAndGlyphs">Heath</tspan> <tspan x="417.74" textLength="13.92" lengthAdjust="spacingAndGlyphs">&amp;</tspan> <tspan x="434.98" textLength="84.01" lengthAdjust="spacingAndGlyphs">Rowhedge</tspan></text>
<text y="587"><tspan x="751.21" textLength="29.89" lengthAdjust="spacingAndGlyphs">113</tspan></text>
<text y="587"><tspan x="876.20" textLength="20.01" lengthAdjust="spacingAndGlyphs">39</tspan></text>
<text y="587" font-weight="bold" fill="#548235"><tspan x="995.99" textLength="19.81" lengthAdjust="spacingAndGlyphs">74</tspan></text>
<text y="615"><tspan x="30.94" textLength="20.29" lengthAdjust="spacingAndGlyphs">20</tspan></text>
<text y="615" clip-path="url(#c1)"><tspan x="83.69" textLength="63.15" lengthAdjust="spacingAndGlyphs">Stafford</tspan> <tspan x="151.29" textLength="112.42" lengthAdjust="spacingAndGlyphs">(Staffordshire)</tspan></text>
<text y="615" font-weight="bold" fill="#595959"><tspan x="333.87" textLength="46.12" lengthAdjust="spacingAndGlyphs">Stone</tspan> <tspan x="383.98" textLength="43.09" lengthAdjust="spacingAndGlyphs">Town</tspan></text>
<text y="615"><tspan x="751.28" textLength="29.73" lengthAdjust="spacingAndGlyphs">121</tspan></text>
<text y="615"><tspan x="875.90" textLength="20.41" lengthAdjust="spacingAndGlyphs">47</tspan></text>
<text y="615" font-weight="bold" fill="#548235"><tspan x="995.99" textLength="19.81" lengthAdjust="spacingAndGlyphs">74</tspan></text>
<text y="643"><tspan x="30.94" textLength="20.08" lengthAdjust="spacingAndGlyphs">21</tspan></text>
<text y="643" clip-path="url(#c1)"><tspan x="83.89" textLength="65.12" lengthAdjust="spacingAndGlyphs">Norwich</tspan> <tspan x="153.27" textLength="69.47" lengthAdjust="spacingAndGlyphs">(Norfolk)</tspan></text>
<text y="643" font-weight="bold" fill="#595959"><tspan x="334.01" textLength="37.06" lengthAdjust="spacingAndGlyphs">Mile</tspan> <tspan x="374.76" textLength="43.38" lengthAdjust="spacingAndGlyphs">Cross</tspan></text>
<text y="643"><tspan x="751.21" textLength="29.89" lengthAdjust="spacingAndGlyphs">113</tspan></text>
<text y="643"><tspan x="875.91" textLength="20.32" lengthAdjust="spacingAndGlyphs">40</tspan></text>
<text y="643" font-weight="bold" fill="#548235"><tspan x="995.98" textLength="20.14" lengthAdjust="spacingAndGlyphs">73</tspan></text>
<text y="671"><tspan x="30.94" textLength="20.16" lengthAdjust="spacingAndGlyphs">22</tspan></text>
<text y="671" clip-path="url(#c1)"><tspan x="83.72" textLength="45.24" lengthAdjust="spacingAndGlyphs">South</tspan> <tspan x="132.84" textLength="121.24" lengthAdjust="spacingAndGlyphs">Gloucestershire</tspan></text>
<text y="671" font-weight="bold" fill="#595959"><tspan x="333.93" textLength="72.07" lengthAdjust="spacingAndGlyphs">Frenchay</tspan> <tspan x="409.74" textLength="13.92" lengthAdjust="spacingAndGlyphs">&amp;</tspan> <tspan x="426.79" textLength="45.14" lengthAdjust="spacingAndGlyphs">Great</tspan> <tspan x="475.88" textLength="45.12" lengthAdjust="spacingAndGlyphs">Stoke</tspan></text>
<text y="671"><tspan x="751.30" textLength="29.31" lengthAdjust="spacingAndGlyphs">135</tspan></text>
<text y="671"><tspan x="875.93" textLength="20.17" lengthAdjust="spacingAndGlyphs">62</tspan></text>
<text y="671" font-weight="bold" fill="#548235"><tspan x="995.98" textLength="20.14" lengthAdjust="spacingAndGlyphs">73</tspan></text>
<text y="699"><tspan x="30.94" textLength="20.13" lengthAdjust="spacingAndGlyphs">23</tspan></text>
<text y="699" clip-path="url(#c1)"><tspan x="83.99" textLength="45.73" lengthAdjust="spacingAndGlyphs">Ealing</tspan></text>
<text y="699" font-weight="bold" fill="#595959"><tspan x="334.03" textLength="47.83" lengthAdjust="spacingAndGlyphs">Ealing</tspan> <tspan x="385.00" textLength="79.00" lengthAdjust="spacingAndGlyphs">Broadway</tspan> <tspan x="468.05" textLength="32.86" lengthAdjust="spacingAndGlyphs">East</tspan></text>
<text y="699"><tspan x="751.28" textLength="29.93" lengthAdjust="spacingAndGlyphs">129</tspan></text>
<text y="699"><tspan x="876.14" textLength="20.16" lengthAdjust="spacingAndGlyphs">57</tspan></text>
<text y="699" font-weight="bold" fill="#548235"><tspan x="995.98" textLength="20.08" lengthAdjust="spacingAndGlyphs">72</tspan></text>
<text y="727"><tspan x="30.94" textLength="20.28" lengthAdjust="spacingAndGlyphs">24</tspan></text>
<text y="727" clip-path="url(#c1)"><tspan x="83.86" textLength="45.18" lengthAdjust="spacingAndGlyphs">North</tspan> <tspan x="132.87" textLength="50.10" lengthAdjust="spacingAndGlyphs">Devon</tspan> <tspan x="187.32" textLength="61.36" lengthAdjust="spacingAndGlyphs">(Devon)</tspan></text>
<text y="727" font-weight="bold" fill="#595959"><tspan x="333.88" textLength="46.14" lengthAdjust="spacingAndGlyphs">South</tspan> <tspan x="384.08" textLength="59.04" lengthAdjust="spacingAndGlyphs">Molton</tspan></text>
<text y="727"><tspan x="751.27" textLength="29.93" lengthAdjust="spacingAndGlyphs">130</tspan></text>
<text y="727"><tspan x="876.15" textLength="19.87" lengthAdjust="spacingAndGlyphs">58</tspan></text>
<text y="727" font-weight="bold" fill="#548235"><tspan x="995.98" textLength="20.08" lengthAdjust="spacingAndGlyphs">72</tspan></text>
<text y="755"><tspan x="30.96" textLength="19.66" lengthAdjust="spacingAndGlyphs">25</tspan></text>
<text y="755" clip-path="url(#c1)"><tspan x="84.03" textLength="56.01" lengthAdjust="spacingAndGlyphs">Reigate</tspan> <tspan x="144.05" textLength="28.73" lengthAdjust="spacingAndGlyphs">and</tspan> <tspan x="176.96" textLength="70.78" lengthAdjust="spacingAndGlyphs">Banstead</tspan> <tspan x="252.32" textLength="62.36" lengthAdjust="spacingAndGlyphs">(Surrey)</tspan></text>
<text y="755" font-weight="bold" fill="#595959"><tspan x="333.97" textLength="56.07" lengthAdjust="spacingAndGlyphs">Redhill</tspan> <tspan x="394.05" textLength="32.86" lengthAdjust="spacingAndGlyphs">East</tspan></text>
<text y="755"><tspan x="751.21" textLength="29.93" lengthAdjust="spacingAndGlyphs">112</tspan></text>
<text y="755"><tspan x="875.91" textLength="20.32" lengthAdjust="spacingAndGlyphs">40</tspan></text>
<text y="755" font-weight="bold" fill="#548235"><tspan x="995.98" textLength="20.08" lengthAdjust="spacingAndGlyphs">72</tspan></text>
<text y="783"><tspan x="30.94" textLength="20.20" lengthAdjust="spacingAndGlyphs">26</tspan></text>
<text y="783" clip-path="url(#c1)"><tspan x="83.73" textLength="68.07" lengthAdjust="spacingAndGlyphs">Cornwall</tspan></text>
<text y="783" font-weight="bold" fill="#595959"><tspan x="333.98" textLength="29.00" lengthAdjust="spacingAndGlyphs">The</tspan> <tspan x="366.93" textLength="46.97" lengthAdjust="spacingAndGlyphs">Lizard</tspan></text>
<text y="783"><tspan x="751.28" textLength="29.78" lengthAdjust="spacingAndGlyphs">103</tspan></text>
<text y="783"><tspan x="876.20" textLength="19.89" lengthAdjust="spacingAndGlyphs">32</tspan></text>
<text y="783" font-weight="bold" fill="#548235"><tspan x="996.00" textLength="19.78" lengthAdjust="spacingAndGlyphs">71</tspan></text>
<text y="811"><tspan x="30.93" textLength="20.38" lengthAdjust="spacingAndGlyphs">27</tspan></text>
<text y="811" clip-path="url(#c1)"><tspan x="84.04" textLength="31.74" lengthAdjust="spacingAndGlyphs">East</tspan> <tspan x="119.87" textLength="84.22" lengthAdjust="spacingAndGlyphs">Hampshire</tspan> <tspan x="208.32" textLength="95.37" lengthAdjust="spacingAndGlyphs">(Hampshire)</tspan></text>
<text y="811" font-weight="bold" fill="#595959"><tspan x="333.60" textLength="44.48" lengthAdjust="spacingAndGlyphs">Alton</tspan> <tspan x="381.62" textLength="65.47" lengthAdjust="spacingAndGlyphs">Ashdell,</tspan> <tspan x="451.07" textLength="93.02" lengthAdjust="spacingAndGlyphs">Whitedown</tspan> <tspan x="547.74" textLength="13.92" lengthAdjust="spacingAndGlyphs">&amp;</tspan> <tspan x="564.61" textLength="53.39" lengthAdjust="spacingAndGlyphs">Amery</tspan></text>
<text y="811"><tspan x="751.28" textLength="29.93" lengthAdjust="spacingAndGlyphs">129</tspan></text>
<text y="811"><tspan x="876.15" textLength="19.87" lengthAdjust="spacingAndGlyphs">58</tspan></text>
<text y="811" font-weight="bold" fill="#548235"><tspan x="996.00" textLength="19.78" lengthAdjust="spacingAndGlyphs">71</tspan></text>
<text y="839"><tspan x="30.95" textLength="20.08" lengthAdjust="spacingAndGlyphs">28</tspan></text>
<text y="839" clip-path="url(#c1)"><tspan x="83.73" textLength="73.06" lengthAdjust="spacingAndGlyphs">Somerset</tspan> <tspan x="161.03" textLength="39.76" lengthAdjust="spacingAndGlyphs">West</tspan> <tspan x="205.05" textLength="28.73" lengthAdjust="spacingAndGlyphs">and</tspan> <tspan x="237.82" textLength="64.20" lengthAdjust="spacingAndGlyphs">Taunton</tspan> <tspan x="306.33" textLength="84.33" lengthAdjust="spacingAndGlyphs">(Somerset)</tspan></text>
<text y="839" font-weight="bold" fill="#595959"><tspan x="333.98" textLength="65.07" lengthAdjust="spacingAndGlyphs">Taunton</tspan> <tspan x="402.96" textLength="54.05" lengthAdjust="spacingAndGlyphs">Halcon</tspan> <tspan x="460.74" textLength="13.92" lengthAdjust="spacingAndGlyphs">&amp;</tspan> <tspan x="478.12" textLength="72.98" lengthAdjust="spacingAndGlyphs">Monkton</tspan> <tspan x="554.88" textLength="84.11" lengthAdjust="spacingAndGlyphs">Heathfield</tspan></text>
<text y="839"><tspan x="751.21" textLength="29.89" lengthAdjust="spacingAndGlyphs">113</tspan></text>
<text y="839"><tspan x="875.91" textLength="20.17" lengthAdjust="spacingAndGlyphs">43</tspan></text>
<text y="839" font-weight="bold" fill="#548235"><tspan x="995.97" textLength="20.39" lengthAdjust="spacingAndGlyphs">70</tspan></text>
<text y="867"><tspan x="30.94" textLength="20.28" lengthAdjust="spacingAndGlyphs">29</tspan></text>
<text y="867" clip-path="url(#c1)"><tspan x="83.82" textLength="94.08" lengthAdjust="spacingAndGlyphs">Tewkesbury</tspan> <tspan x="182.32" textLength="132.36" lengthAdjust="spacingAndGlyphs">(Gloucestershire)</tspan></text>
<text y="867" font-weight="bold" fill="#595959"><tspan x="334.05" textLength="66.12" lengthAdjust="spacingAndGlyphs">Bishop's</tspan> <tspan x="403.70" textLength="54.30" lengthAdjust="spacingAndGlyphs">Cleeve</tspan></text>
<text y="867"><tspan x="751.28" textLength="29.93" lengthAdjust="spacingAndGlyphs">159</tspan></text>
<text y="867"><tspan x="875.97" textLength="20.24" lengthAdjust="spacingAndGlyphs">89</tspan></text>
<text y="867" font-weight="bold" fill="#548235"><tspan x="995.97" textLength="20.39" lengthAdjust="spacingAndGlyphs">70</tspan></text>
<text y="895"><tspan x="31.20" textLength="20.02" lengthAdjust="spacingAndGlyphs">30</tspan></text>
<text y="895" clip-path="url(#c1)"><tspan x="83.73" textLength="68.07" lengthAdjust="spacingAndGlyphs">Cornwall</tspan></text>
<text y="895" font-weight="bold" fill="#595959"><tspan x="333.91" textLength="62.14" lengthAdjust="spacingAndGlyphs">Helston</tspan></text>
<text y="895"><tspan x="751.28" textLength="29.81" lengthAdjust="spacingAndGlyphs">132</tspan></text>
<text y="895"><tspan x="875.93" textLength="20.29" lengthAdjust="spacingAndGlyphs">64</tspan></text>
<text y="895" font-weight="bold" fill="#548235"><tspan x="995.96" textLength="20.03" lengthAdjust="spacingAndGlyphs">68</tspan></text>
<text y="923" font-weight="bold" fill="#7F7F7F"><tspan x="4.79" textLength="66.96" lengthAdjust="spacingAndGlyphs">@RP131</tspan></text>
<text y="921" font-weight="bold" fill="#FFC000"><tspan x="333.56" textLength="54.34" lengthAdjust="spacingAndGlyphs">Yellow</tspan> <tspan x="392.11" textLength="8.76" lengthAdjust="spacingAndGlyphs">=</tspan> <tspan x="404.62" textLength="37.29" lengthAdjust="spacingAndGlyphs">Area</tspan> <tspan x="447.12" textLength="36.02" lengthAdjust="spacingAndGlyphs">with</tspan> <tspan x="487.15" textLength="83.76" lengthAdjust="spacingAndGlyphs">"Enhanced</tspan> <tspan x="575.02" textLength="84.31" lengthAdjust="spacingAndGlyphs">Response"</tspan></text>
<text y="923" font-weight="bold" fill="#7F7F7F"><tspan x="808.89" textLength="59.45" lengthAdjust="spacingAndGlyphs">Source:</tspan> <tspan x="871.86" textLength="190.00" lengthAdjust="spacingAndGlyphs">coronavirus.data.gov.uk</tspan></text>
<text x="0" y="52.7" font-weight="bold" fill="#fff" transform="matrix(1.267 0 0 1 1037.54 0)">▼</text>
</svg>
</body></html>
